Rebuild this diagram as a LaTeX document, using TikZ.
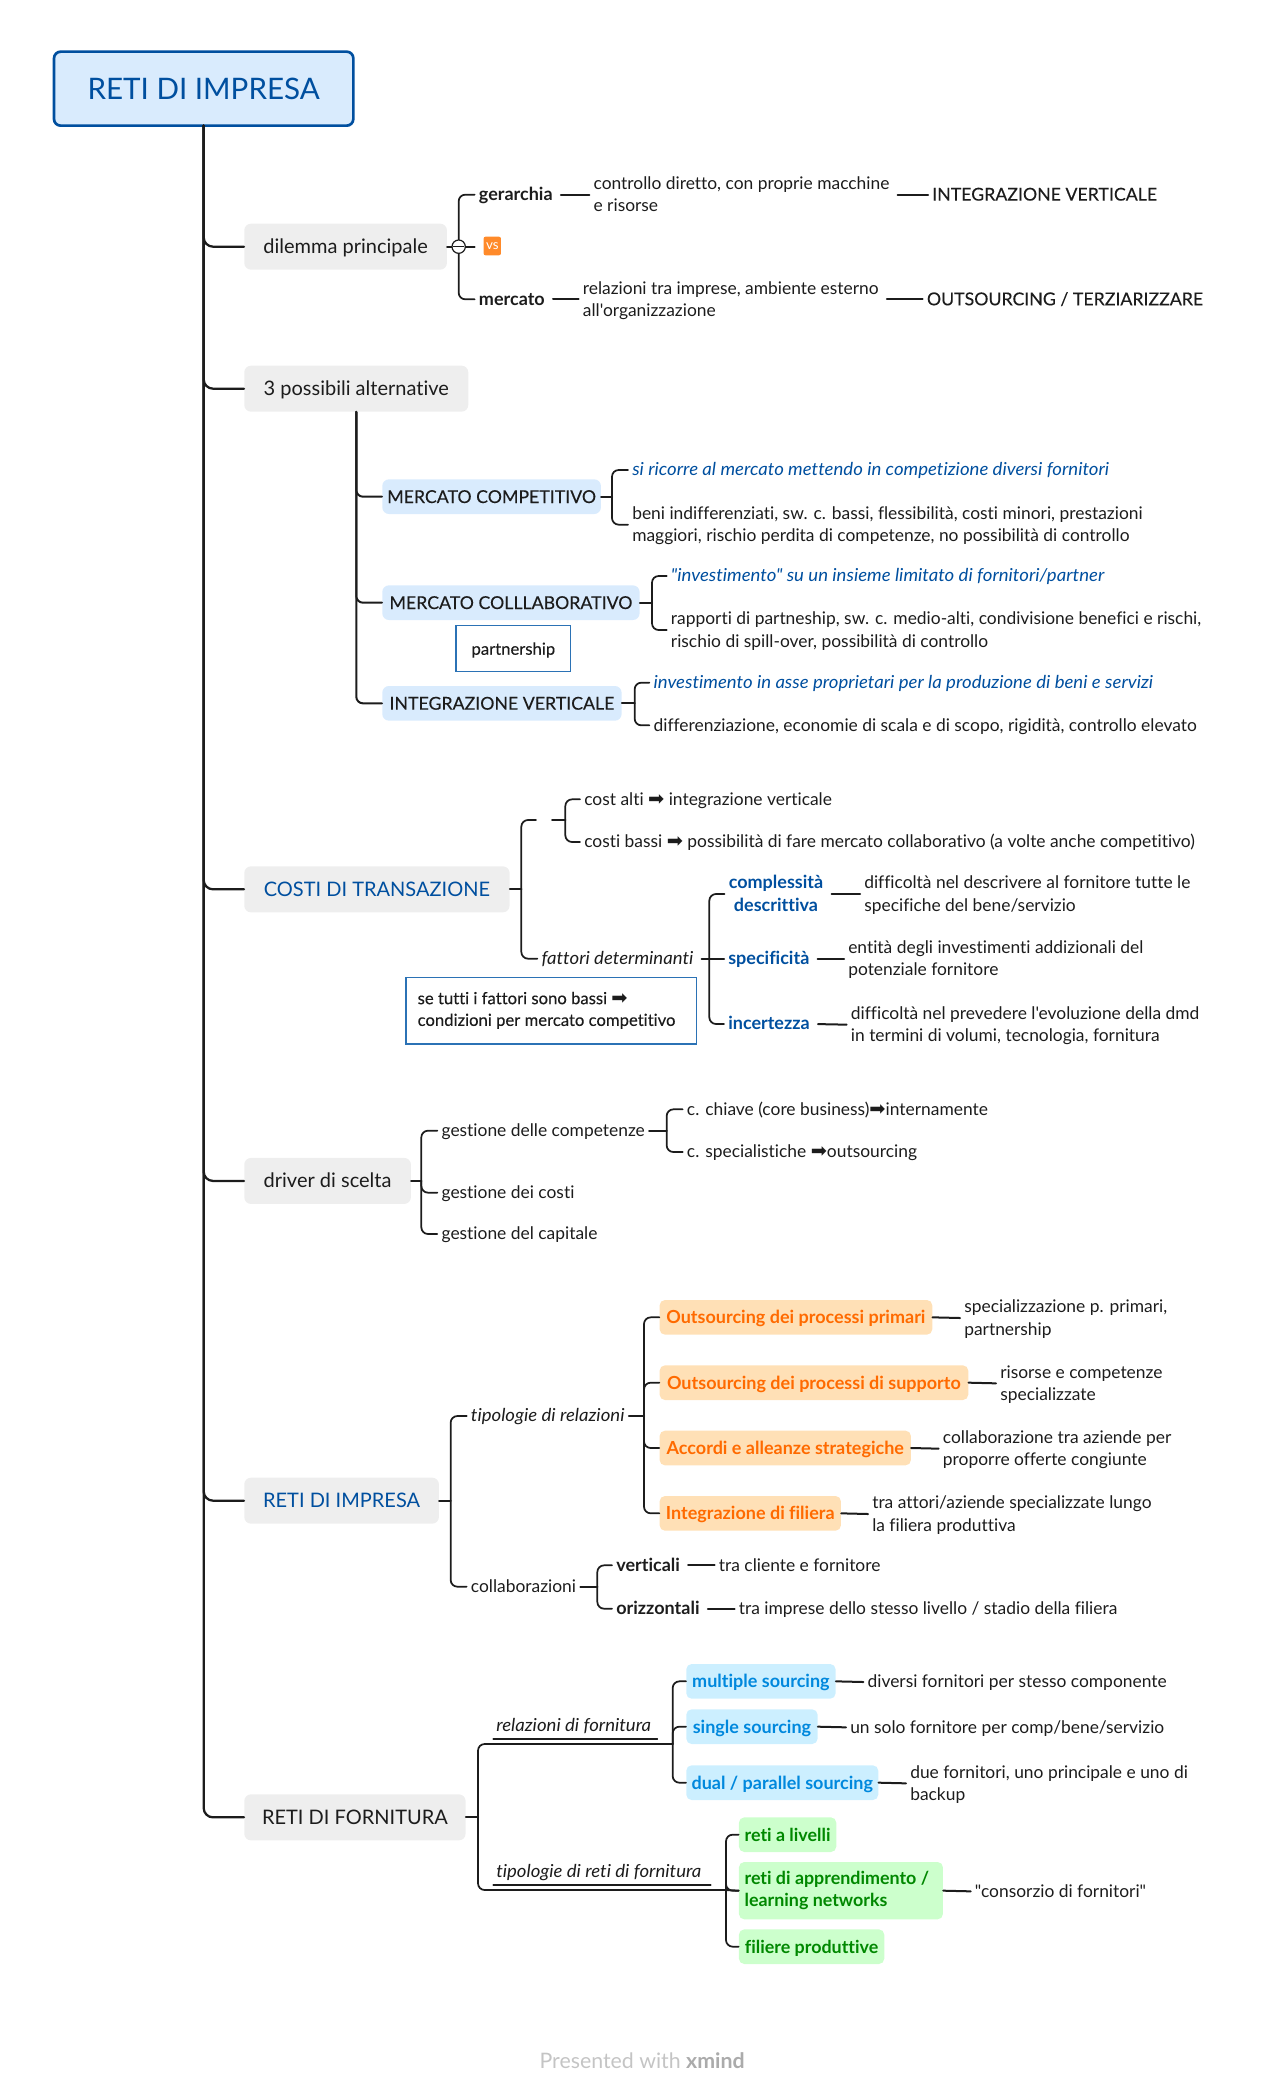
\documentclass[tikz,border=0pt]{standalone}
\usepackage{fontspec}
\setmainfont[Ligatures={TeXOff,NoCommon}]{Lato}
\newfontfamily\arrowfont{DejaVu Sans}
\newfontfamily\medfam[FakeBold=0.2,Ligatures={TeXOff,NoCommon}]{Lato}
\newfontfamily\itfam[UprightFont=* Italic,FakeStretch=1.04,Ligatures={TeXOff,NoCommon}]{Lato}
\definecolor{navy}{HTML}{004F9F}
\definecolor{navyline}{HTML}{2B72B5}
\definecolor{rootfill}{HTML}{D9EBFD}
\definecolor{grayfill}{HTML}{EEEEEE}
\definecolor{ink}{HTML}{1C1C1C}
\definecolor{orfill}{HTML}{FFE0B6}
\definecolor{ortext}{HTML}{FF6A00}
\definecolor{bluefill}{HTML}{CCEFFF}
\definecolor{bluetext}{HTML}{0088DD}
\definecolor{grfill}{HTML}{CCFFCC}
\definecolor{grtext}{HTML}{008800}
\definecolor{vsor}{HTML}{FF8A2A}
\newcommand\bodyfont{\fontsize{13.05}{16.7}\selectfont}
\newcommand\tstrut{\vrule height 12.8pt depth 3.9pt width 0pt\relax}
\newcommand\arr{{\arrowfont\fontsize{14.5}{10}\selectfont ➡}}
\newcommand\twol[2]{\tstrut #1\\\tstrut #2}
\tikzset{
  x=1pt,y=-1pt,
  base/.style={inner ysep=0pt},
  onel/.style={text height=10pt,text depth=.5pt},
  txt/.style={base,anchor=west,inner xsep=3pt,align=left,text=ink,font=\bodyfont},
  btxt/.style={txt,font=\fontsize{13.5}{16.7}\bfseries\selectfont},
  itxt/.style={txt,font=\fontsize{13.4}{16.7}\itfam\selectfont},
  bluei/.style={itxt,text=navy},
  blueb/.style={txt,font=\fontsize{13.5}{16.7}\bfseries\selectfont,text=navy},
  capt/.style={txt,font=\fontsize{13.3}{16.7}\medfam\selectfont},
  topic/.style={anchor=west,rounded corners=5pt,fill=grayfill,minimum height=34.5pt,inner sep=0pt,text=ink,text height=11pt,text depth=1pt,font=\fontsize{15}{18}\selectfont},
  sub/.style={anchor=west,rounded corners=5pt,fill=rootfill,minimum height=26pt,inner sep=0pt,text=ink,onel,font=\fontsize{13.3}{16.5}\medfam\selectfont},
  orb/.style={anchor=west,rounded corners=4pt,fill=orfill,minimum height=26pt,inner sep=0pt,text=ortext,onel,font=\fontsize{13.5}{16.5}\bfseries\selectfont},
  blb/.style={anchor=west,rounded corners=4pt,fill=bluefill,minimum height=26pt,inner sep=0pt,text=bluetext,onel,font=\fontsize{13.5}{16.5}\bfseries\selectfont},
  grb/.style={anchor=west,rounded corners=4pt,fill=grfill,minimum height=26pt,inner sep=0pt,text=grtext,font=\fontsize{13.4}{16.7}\bfseries\selectfont,align=left},
  notebox/.style={anchor=west,draw=navyline,line width=1pt,fill=white,inner sep=0pt,text=ink,align=left,font=\fontsize{12.5}{16.3}\medfam\selectfont},
  link/.style={draw=ink,line width=1.5pt,line cap=round},
  stub/.style={link,shorten <=3pt},
  spine/.style={draw=ink,line width=1.3pt,rounded corners=5pt,line cap=round},
}
\newcommand\tee[3]{\draw[link] (#1.east) -- (#2,0 |- #1.east); \foreach \c in {#3} {\draw[spine] (#2,0 |- #1.east) |- (\c.west);}}
\begin{document}
\begin{tikzpicture}
\useasboundingbox (0,0) rectangle (960,1565.25);
\begin{scope}[xshift=-1pt]

% root
\node[anchor=west,draw=navy,line width=2pt,outer sep=0pt,rounded corners=5pt,fill=rootfill,minimum width=224.5pt,minimum height=55.5pt,inner sep=0pt,text=navy,font=\fontsize{22.2}{26}\selectfont] (root) at (41.5,66.5) {RETI DI IMPRESA};

% main topics
\node[topic,minimum width=152pt] (dil) at (184,185) {dilemma principale};
\node[topic,minimum width=168pt] (alt) at (184,291.5) {3 possibili alternative};
\node[topic,minimum width=199pt,text=navy] (cos) at (184,667) {COSTI DI TRANSAZIONE};
\node[topic,minimum width=125pt] (dri) at (184,885.7) {driver di scelta};
\node[topic,minimum width=146pt,text=navy] (ret) at (184,1125.5) {RETI DI IMPRESA};
\node[topic,minimum width=166pt] (for) at (184,1363) {RETI DI FORNITURA};
\foreach \n in {dil,alt,cos,dri,ret,for} {\draw[spine,line width=1.7pt,rounded corners=7pt] (root.south) |- (\n.west);}

% dilemma
\node[btxt] (ger) at (357,146) {\tstrut gerarchia};
\node[txt] (gert) at (443,146) {\twol{controllo diretto, con proprie macchine}{e risorse}};
\node[capt] (gerc) at (697,146) {\tstrut INTEGRAZIONE VERTICALE};
\node[btxt] (mer) at (357,224.5) {\tstrut mercato};
\node[txt] (mert) at (435,224.5) {\twol{relazioni tra imprese, ambiente esterno}{all'organizzazione}};
\node[capt] (merc) at (693,224.5) {\tstrut OUTSOURCING / TERZIARIZZARE};
\coordinate (dilend) at (357,185);
\draw[link] (dil.east) -- (dilend);
\foreach \c in {ger,mer} {\draw[spine] (345,185) |- (\c.west);}
\node[circle,draw=ink,line width=.9pt,fill=white,minimum size=10pt,inner sep=0pt] (dilcirc) at (345,185) {};
\draw[ink,line width=.9pt] ([xshift=1.5pt]dilcirc.west) -- ([xshift=-1.5pt]dilcirc.east);
\node[anchor=west,rounded corners=1.5pt,fill=vsor,minimum width=13pt,minimum height=14pt,inner sep=0pt,text=white,font=\fontsize{10}{11}\selectfont] (vs) at (363.5,184.5) {vs};
\foreach \a/\b in {ger/gert,gert/gerc,mer/mert,mert/merc} {\draw[stub] (\a.east) -- (\b.west);}

% alternatives
\node[sub,minimum width=164pt] (mc) at (287.5,372.5) {MERCATO COMPETITIVO};
\node[sub,minimum width=193pt] (mk) at (287.5,452) {MERCATO COLLLABORATIVO};
\node[sub,minimum width=179.5pt] (iv) at (287.5,527.5) {INTEGRAZIONE VERTICALE};
\node[notebox,onel,minimum width=86pt,minimum height=34.5pt] (pa) at (342.5,486.3) {partnership};
\foreach \n in {mc,mk,iv} {\draw[spine,line width=1.5pt] (alt.south) |- (\n.west);}

\node[bluei] (mc1) at (472,352.5) {\tstrut si ricorre al mercato mettendo in competizione diversi fornitori};
\node[txt] (mc2) at (472,393.5) {\twol{beni indifferenziati, sw. c. bassi, flessibilità, costi minori, prestazioni}{maggiori, rischio perdita di competenze, no possibilità di controllo}};
\tee{mc}{460}{mc1,mc2}
\node[bluei] (mk1) at (501,432) {\tstrut "investimento" su un insieme limitato di fornitori/partner};
\node[txt] (mk2) at (501,472.5) {\twol{rapporti di partneship, sw. c. medio-alti, condivisione benefici e rischi,}{rischio di spill-over, possibilità di controllo}};
\tee{mk}{490}{mk1,mk2}
\node[bluei] (iv1) at (488,512) {\tstrut investimento in asse proprietari per la produzione di beni e servizi};
\node[txt] (iv2) at (488,544) {\tstrut differenziazione, economie di scala e di scopo, rigidità, controllo elevato};
\tee{iv}{477}{iv1,iv2}

% costi
\coordinate (blanka) at (403,615);
\coordinate (blankb) at (415,615);
\node[itxt] (fat) at (404,719) {\tstrut fattori determinanti};
\draw[link] (cos.east) -- (392,0 |- cos.east);
\draw[spine] (392,0 |- cos.east) |- (blanka);
\draw[spine] (392,0 |- cos.east) |- (fat.west);
\node[txt] (ca) at (436,599.5) {\tstrut cost alti \arr{} integrazione verticale};
\node[txt] (cb) at (436,631.5) {\tstrut costi bassi \arr{} possibilità di fare mercato collaborativo (a volte anche competitivo)};
\draw[link] (blankb) -- (425,615);
\foreach \c in {ca,cb} {\draw[spine] (425,615) |- (\c.west);}
\node[blueb,align=center,inner xsep=0pt,anchor=center] (cpx) at (583,670.5) {\twol{complessità}{descrittiva}};
\node[blueb] (spe) at (544,719) {\tstrut specificità};
\node[blueb] (inc) at (544,768) {\tstrut incertezza};
\draw[stub] (fat.east) -- (533,0 |- fat.east);
\draw[spine] (533,719) |- ([xshift=-3pt]cpx.west);
\draw[spine] (533,719) |- (inc.west);
\draw[link] (533,719) -- (spe.west);
\node[txt] (cpxt) at (646,670.5) {\twol{difficoltà nel descrivere al fornitore tutte le}{specifiche del bene/servizio}};
\node[txt] (spet) at (634,719) {\twol{entità degli investimenti addizionali del}{potenziale fornitore}};
\node[txt] (inct) at (636,768.5) {\twol{difficoltà nel prevedere l'evoluzione della dmd}{in termini di volumi, tecnologia, fornitura}};
\draw[link,shorten <=6pt] (cpx.east) -- (cpxt.west);
\foreach \a/\b in {spe/spet,inc/inct} {\draw[stub] (\a.east) -- (\b.west);}
\node[notebox,minimum width=218pt,minimum height=50pt] (note) at (305,758) {\hspace*{6.5pt}\parbox{207pt}{\strut se tutti i fattori sono bassi \arr\\\strut condizioni per mercato competitivo}};

% driver
\node[txt] (gc) at (329,848) {\tstrut gestione delle competenze};
\node[txt] (gd) at (329,894.5) {\tstrut gestione dei costi};
\node[txt] (gk) at (329,925.5) {\tstrut gestione del capitale};
\tee{dri}{317}{gc,gd,gk}
\node[txt] (ck) at (513,832) {\tstrut c. chiave (core business)\arr{}internamente};
\node[txt] (cs) at (513,864) {\tstrut c. specialistiche \arr{}outsourcing};
\tee{gc}{501}{ck,cs}

% reti di impresa
\node[itxt] (tr) at (351,1062) {\tstrut tipologie di relazioni};
\node[txt] (co) at (351,1190) {\tstrut collaborazioni};
\tee{ret}{339}{tr,co}
\node[orb,minimum width=204.5pt] (o1) at (495.5,988) {Outsourcing dei processi primari};
\node[orb,minimum width=231.5pt] (o2) at (495.5,1037) {Outsourcing dei processi di supporto};
\node[orb,minimum width=188.5pt] (o3) at (495.5,1086) {Accordi e alleanze strategiche};
\node[orb,minimum width=136pt] (o4) at (495.5,1135) {Integrazione di filiera};
\tee{tr}{484}{o1,o2,o3,o4}
\node[txt] (o1t) at (721,988.5) {\twol{specializzazione p. primari,}{partnership}};
\node[txt] (o2t) at (748,1037.5) {\twol{risorse e competenze}{specializzate}};
\node[txt] (o3t) at (705,1086.5) {\twol{collaborazione tra aziende per}{proporre offerte congiunte}};
\node[txt] (o4t) at (652,1135.5) {\twol{tra attori/aziende specializzate lungo}{la filiera produttiva}};
\foreach \a in {o1,o2,o3,o4} {\draw[link] (\a.east) -- (\a t.west);}
\node[btxt] (ve) at (460,1174) {\tstrut verticali};
\node[btxt] (oz) at (460,1206.5) {\tstrut orizzontali};
\tee{co}{449}{ve,oz}
\node[txt] (vet) at (537,1174) {\tstrut tra cliente e fornitore};
\node[txt] (ozt) at (552,1206.5) {\tstrut tra imprese dello stesso livello / stadio della filiera};
\foreach \a/\b in {ve/vet,oz/ozt} {\draw[stub] (\a.east) -- (\b.west);}

% reti di fornitura
\node[itxt] (rf) at (370,1294.5) {\tstrut relazioni di fornitura};
\node[itxt] (tf) at (370,1404) {\tstrut tipologie di reti di fornitura};
\coordinate (rfhub) at (505.5,1308);
\coordinate (tfhub) at (545.5,1417.5);
\draw[link] (for.east) -- (359.5,0 |- for.east);
\draw[spine] (359.5,0 |- for.east) |- (rfhub);
\draw[spine] (359.5,0 |- for.east) |- (tfhub);
\coordinate (rfua) at (371,1304);
\coordinate (rfub) at (494,1304);
\coordinate (tfua) at (371,1414);
\coordinate (tfub) at (534,1414);
\draw[link,line width=1.3pt] (rfua) -- (rfub);
\draw[link,line width=1.3pt] (tfua) -- (tfub);
\node[blb,minimum width=112pt] (s1) at (515.5,1261) {multiple sourcing};
\node[blb,minimum width=98.5pt] (s2) at (515.5,1295) {single sourcing};
\node[blb,minimum width=144pt] (s3) at (515.5,1337) {dual / parallel sourcing};
\foreach \c in {s1,s2,s3} {\draw[spine] (rfhub) |- (\c.west);}
\node[txt] (s1t) at (648.5,1261.5) {\tstrut diversi fornitori per stesso componente};
\node[txt] (s2t) at (635.5,1295.5) {\tstrut un solo fornitore per comp/bene/servizio};
\node[txt] (s3t) at (680.5,1337.5) {\twol{due fornitori, uno principale e uno di}{backup}};
\foreach \a in {s1,s2,s3} {\draw[link] (\a.east) -- (\a t.west);}
\node[grb,onel,minimum width=73pt] (g1) at (555,1376) {reti a livelli};
\node[grb,minimum width=153pt,minimum height=43pt] (g2) at (555,1418) {\hspace*{3.5pt}\parbox{148pt}{\strut reti di apprendimento /\\\strut learning networks}};
\node[grb,onel,minimum width=109pt] (g3) at (555,1460) {filiere produttive};
\foreach \c in {g1,g2,g3} {\draw[spine] (tfhub) |- (\c.west);}
\draw[link] (tfhub) -- (g2.west);
\coordinate (rfmid) at (372,1308);
\coordinate (tfmid) at (372,1417.5);
\draw[link] (rfhub) -- (rfmid);
\draw[link] (tfhub) -- (tfmid);
\node[txt] (g2t) at (729,1418.5) {\tstrut "consorzio di fornitori"};
\draw[link] (g2.east) -- (g2t.west);

% footer
\node[anchor=west,inner sep=0pt,text=black!23,font=\fontsize{16}{18}\selectfont] (foot) at (405.5,1545.5) {Presented with \textcolor{black!33}{\textbf{xmind}}};
\end{scope}
\end{tikzpicture}
\end{document}
